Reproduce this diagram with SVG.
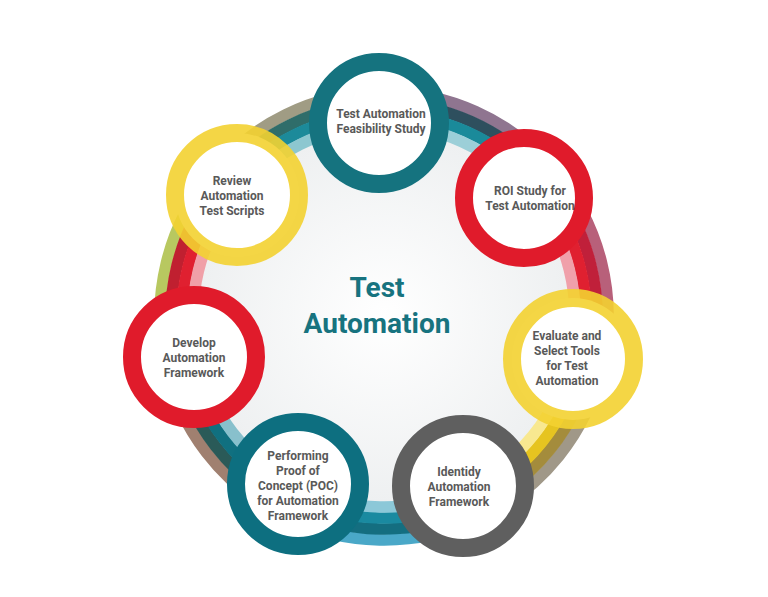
<svg xmlns="http://www.w3.org/2000/svg" width="768" height="597" viewBox="0 0 768 597">
<defs>
<radialGradient id="bg" cx="0.5" cy="0.5" r="0.5"><stop offset="0" stop-color="#ffffff"/><stop offset="1" stop-color="#eef0f1"/></radialGradient>
</defs>
<style>
.b{fill:none;stroke-width:11.5}
.n{fill:#ffffff;stroke-width:18}
.t{font-family:Roboto,"Liberation Sans",sans-serif;font-weight:bold;font-size:12px;fill:#595959;text-anchor:middle}
.h{font-family:Roboto,"Liberation Sans",sans-serif;font-weight:bold;font-size:28px;fill:#17737f;text-anchor:middle}
</style>
<rect width="768" height="597" fill="#ffffff"/>
<circle cx="384" cy="316" r="186" fill="url(#bg)"/>
<g id="connectors">
<g transform="rotate(-91.5 384 316)">
<circle class="b" cx="384" cy="316" r="224" pathLength="360" stroke-dasharray="51.2 360" stroke="#8f7590"/>
<circle class="b" cx="384" cy="316" r="213" pathLength="360" stroke-dasharray="51.2 360" stroke="#2e4f5e"/>
<circle class="b" cx="384" cy="316" r="202" pathLength="360" stroke-dasharray="51.2 360" stroke="#1a8a9a"/>
<circle class="b" cx="384" cy="316" r="191" pathLength="360" stroke-dasharray="51.2 360" stroke="#9ccfd8"/>
</g>
<g transform="rotate(-40.3 384 316)">
<circle class="b" cx="384" cy="316" r="224" pathLength="360" stroke-dasharray="52.5 360" stroke="#b8607a"/>
<circle class="b" cx="384" cy="316" r="213" pathLength="360" stroke-dasharray="52.5 360" stroke="#c0203a"/>
<circle class="b" cx="384" cy="316" r="202" pathLength="360" stroke-dasharray="52.5 360" stroke="#e02030"/>
<circle class="b" cx="384" cy="316" r="191" pathLength="360" stroke-dasharray="52.5 360" stroke="#f0a0aa"/>
</g>
<g transform="rotate(12.2 384 316)">
<circle class="b" cx="384" cy="316" r="224" pathLength="360" stroke-dasharray="53 360" stroke="#a09888"/>
<circle class="b" cx="384" cy="316" r="213" pathLength="360" stroke-dasharray="53 360" stroke="#a48c3c"/>
<circle class="b" cx="384" cy="316" r="202" pathLength="360" stroke-dasharray="53 360" stroke="#e6c420"/>
<circle class="b" cx="384" cy="316" r="191" pathLength="360" stroke-dasharray="53 360" stroke="#f8e890"/>
</g>
<g transform="rotate(65.2 384 316)">
<circle class="b" cx="384" cy="316" r="224" pathLength="360" stroke-dasharray="51.9 360" stroke="#4aa8c8"/>
<circle class="b" cx="384" cy="316" r="213" pathLength="360" stroke-dasharray="51.9 360" stroke="#146e80"/>
<circle class="b" cx="384" cy="316" r="202" pathLength="360" stroke-dasharray="51.9 360" stroke="#1a8aa0"/>
<circle class="b" cx="384" cy="316" r="191" pathLength="360" stroke-dasharray="51.9 360" stroke="#8cc8d8"/>
</g>
<g transform="rotate(117.1 384 316)">
<circle class="b" cx="384" cy="316" r="224" pathLength="360" stroke-dasharray="50.7 360" stroke="#a08070"/>
<circle class="b" cx="384" cy="316" r="213" pathLength="360" stroke-dasharray="50.7 360" stroke="#2a5a58"/>
<circle class="b" cx="384" cy="316" r="202" pathLength="360" stroke-dasharray="50.7 360" stroke="#107080"/>
<circle class="b" cx="384" cy="316" r="191" pathLength="360" stroke-dasharray="50.7 360" stroke="#88c0cc"/>
</g>
<g transform="rotate(167.8 384 316)">
<circle class="b" cx="384" cy="316" r="224" pathLength="360" stroke-dasharray="51.7 360" stroke="#b8c860"/>
<circle class="b" cx="384" cy="316" r="213" pathLength="360" stroke-dasharray="51.7 360" stroke="#c02030"/>
<circle class="b" cx="384" cy="316" r="202" pathLength="360" stroke-dasharray="51.7 360" stroke="#e02030"/>
<circle class="b" cx="384" cy="316" r="191" pathLength="360" stroke-dasharray="51.7 360" stroke="#f0a0a8"/>
</g>
<g transform="rotate(219.5 384 316)">
<circle class="b" cx="384" cy="316" r="224" pathLength="360" stroke-dasharray="49 360" stroke="#a09c84"/>
<circle class="b" cx="384" cy="316" r="213" pathLength="360" stroke-dasharray="49 360" stroke="#2f6d6a"/>
<circle class="b" cx="384" cy="316" r="202" pathLength="360" stroke-dasharray="49 360" stroke="#1c8a9a"/>
<circle class="b" cx="384" cy="316" r="191" pathLength="360" stroke-dasharray="49 360" stroke="#8cc7d0"/>
</g>
</g>
<g id="title">
<text class="h" x="377" y="297">Test</text>
<text class="h" x="377" y="333">Automation</text>
</g>
<g id="n1"><circle class="n" cx="379" cy="123" r="61" stroke="#15737f"/>
<text class="t" x="381" y="118">Test Automation</text><text class="t" x="381" y="133">Feasibility Study</text></g>
<g id="n2"><circle class="n" cx="524" cy="198" r="60" stroke="#e01b2b"/>
<text class="t" x="530" y="195">ROI Study for</text><text class="t" x="530" y="210">Test Automation</text></g>
<g id="n3"><circle class="n" cx="573" cy="359" r="61" stroke="#f3d131" stroke-opacity="0.9"/>
<text class="t" x="567" y="340">Evaluate and</text><text class="t" x="567" y="355">Select Tools</text><text class="t" x="567" y="370">for Test</text><text class="t" x="567" y="385">Automation</text></g>
<g id="n4"><circle class="n" cx="463" cy="486" r="62" stroke="#5f5f5f"/>
<text class="t" x="459" y="476">Identidy</text><text class="t" x="459" y="491">Automation</text><text class="t" x="459" y="506">Framework</text></g>
<g id="n5"><circle class="n" cx="298" cy="484" r="62" stroke="#0d6f80"/>
<text class="t" x="298" y="460">Performing</text><text class="t" x="298" y="475">Proof of</text><text class="t" x="298" y="490">Concept (POC)</text><text class="t" x="298" y="505">for Automation</text><text class="t" x="298" y="520">Framework</text></g>
<g id="n6"><circle class="n" cx="194" cy="357" r="62" stroke="#e01b2b"/>
<text class="t" x="194" y="347">Develop</text><text class="t" x="194" y="362">Automation</text><text class="t" x="194" y="377">Framework</text></g>
<g id="n7"><circle class="n" cx="237" cy="195" r="62" stroke="#f3d131" stroke-opacity="0.9"/>
<text class="t" x="232" y="185">Review</text><text class="t" x="232" y="200">Automation</text><text class="t" x="232" y="215">Test Scripts</text></g>
</svg>
